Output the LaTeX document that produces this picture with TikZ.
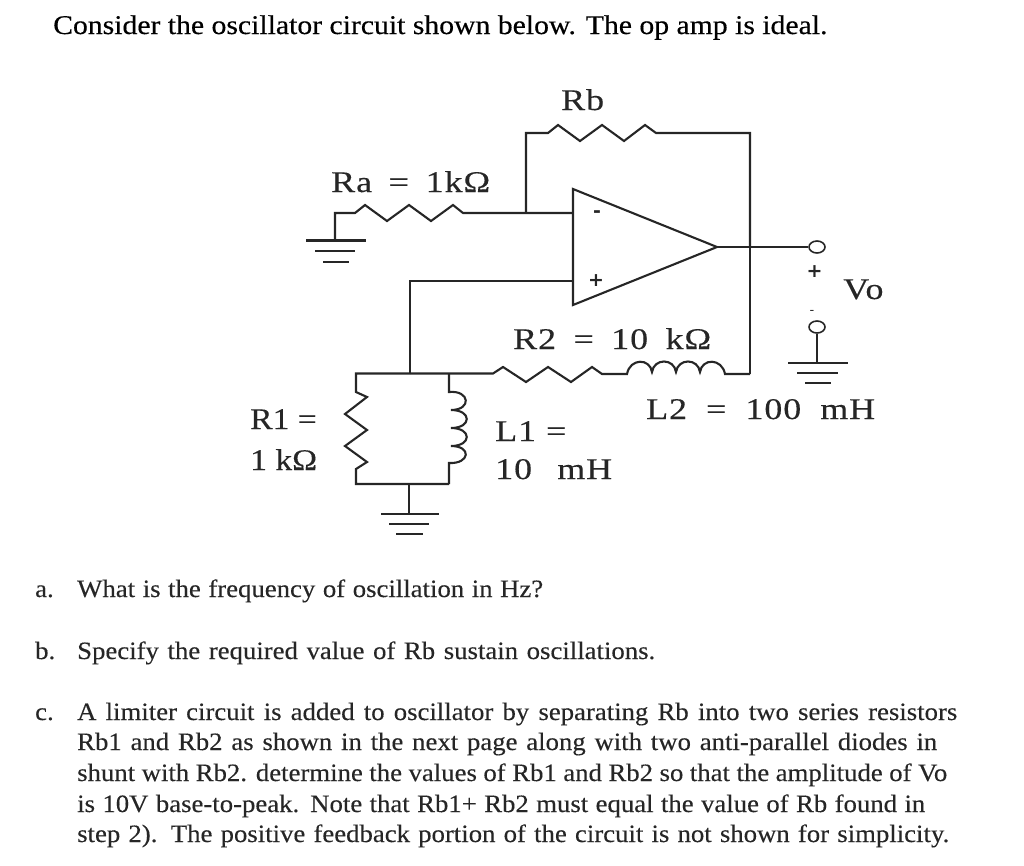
\documentclass[tikz,border=0pt]{standalone}
\usepackage{fontspec}
\setmainfont{Liberation Serif}
\newfontfamily\bodyf[FakeStretch=1.07,FakeBold=0.25]{Liberation Serif}
\newfontfamily\headf[FakeStretch=1.1,FakeBold=0.4]{Liberation Serif}
\newfontfamily\labf[FakeStretch=1.2,FakeBold=0.3,LetterSpace=3]{Liberation Serif}
\newfontfamily\labn[FakeStretch=1.12,FakeBold=0.3]{Liberation Serif}
\newcommand{\fitto}[2]{\makebox[#1pt][s]{#2}}
\definecolor{ink}{HTML}{262626}
\tikzset{
  wire/.style={draw=ink,line width=2.1pt,line join=miter},
  bodytext/.style={anchor=base west,inner sep=0pt,text=ink,font=\bodyf\fontsize{25}{25}\selectfont},
  headtext/.style={anchor=base west,inner sep=0pt,text=black,font=\headf\fontsize{27}{27}\selectfont},
  lab/.style={anchor=base west,inner sep=0pt,text=ink,font=\labf\fontsize{30}{30}\selectfont},
  labnarrow/.style={anchor=base west,inner sep=0pt,text=ink,font=\labn\fontsize{30}{30}\selectfont},
  sign/.style={inner sep=0pt,text=ink,font=\fontspec{DejaVu Sans}\bfseries\fontsize{19}{19}\selectfont},
  termcircle/.style={draw=ink,line width=1.6pt,ellipse,minimum width=16pt,minimum height=12pt,inner sep=0pt},
  pin/.style={inner sep=0pt,minimum size=0pt},
}
\usetikzlibrary{shapes.geometric}
\begin{document}
\begin{tikzpicture}[x=1pt,y=-1pt]
\useasboundingbox (0,0) rectangle (1024,865);
% op amp
\node[pin] (inm) at (573,213) {};
\node[pin] (inp) at (573,281) {};
\node[pin] (out) at (717,247) {};
\draw[wire] (573,189) -- (717,247) -- (573,305) -- cycle;
% Ra branch
\coordinate (gA) at (335,240.5);
\coordinate (jA) at (526,213);
\draw[wire] (gA) -- (335,213) -- (355,213) -- (365,205) -- (387,221) -- (409,205) -- (431,221) -- (453,205) -- (463,213) -- (jA) -- (inm);
\draw[wire] (306,240.5) -- (366,240.5);
\draw[wire] (315,251) -- (355,251);
\draw[wire] (323,262) -- (349,262);
% Rb feedback
\coordinate (jO) at (750,247);
\draw[wire] (jA) -- (526,133) -- (548,133) -- (558,125) -- (580,141) -- (602,125) -- (624,141) -- (645,125) -- (656,133) -- (750,133) -- (jO);
% output
\node[termcircle] (vp) at (817,247) {};
\node[termcircle] (vm) at (817,327) {};
\draw[wire] (out) -- (vp);
\draw[wire] (jO) -- (750,374);
% Vo ground
\coordinate (gV) at (817,363);
\draw[wire] (vm) -- (gV);
\draw[wire] (788,363) -- (848,363);
\draw[wire] (797,373) -- (838,373);
\draw[wire] (805,383) -- (831,383);
% positive input and tank
\coordinate (jP) at (410,373.5);
\coordinate (jL) at (449,373.5);
\draw[wire] (inp) -- (410,281) -- (jP);
\draw[wire] (jP) -- (356,373.5) -- (356,392) -- (367,397) -- (345,414) -- (367,430) -- (345,446) -- (367,462) -- (356,469) -- (356,484) -- (449,484);
\draw[wire] (jP) -- (jL) -- (493,373.5) -- (503,367) -- (526,382) -- (548,367) -- (571,382) -- (592,367) -- (602,374) -- (627,374)
  .. controls (630,358) and (650,358) .. (652,372)
  .. controls (654,358) and (674,358) .. (676,372)
  .. controls (678,358) and (698,358) .. (700,372)
  .. controls (702,358) and (722,358) .. (725,374) -- (750,374);
\draw[wire] (jL) -- (449,392)
  .. controls (470,390) and (472,410) .. (451,410)
  .. controls (472,410) and (472,428) .. (451,428)
  .. controls (472,428) and (472,446) .. (451,446)
  .. controls (472,446) and (470,464) .. (449,463) -- (449,484);
\coordinate (gT) at (409,514);
\draw[wire] (409,484) -- (gT);
\draw[wire] (381,514) -- (439,514);
\draw[wire] (389,524) -- (429,524);
\draw[wire] (396,534) -- (423,534);
% signs
\node[sign] (sm) at (597,214) {-};
\node[sign] (spl) at (596,281) {+};
\node[sign] (vpl) at (814.5,272) {+};
\node[sign,font=\fontspec{DejaVu Sans}\fontsize{13}{13}\selectfont] (vmi) at (812,312) {-};
% labels
\node[lab] (lRb) at (561,110) {Rb};
\node[lab] (lRa) at (331,192) {\fitto{159}{Ra = 1kΩ}};
\node[lab] (lVo) at (843,299) {Vo};
\node[lab] (lR2) at (513,349) {\fitto{198}{R2 = 10 kΩ}};
\node[lab] (lL2) at (646,419) {\fitto{229}{L2 = 100 mH}};
\node[labnarrow] (lR1a) at (250,429) {R1 =};
\node[labnarrow] (lR1b) at (250,470) {1 kΩ};
\node[lab] (lL1a) at (495,441) {L1 =};
\node[lab] (lL1b) at (495,479) {\fitto{117}{10 mH}};
% text
\node[headtext] (h) at (53,34) {Consider the oscillator circuit shown below. The op amp is ideal.};
\node[bodytext] (qa) at (35,597) {a.};
\node[bodytext] (qat) at (77,597) {\fitto{466}{What is the frequency of oscillation in Hz?}};
\node[bodytext] (qb) at (35,659) {b.};
\node[bodytext] (qbt) at (77,659) {\fitto{578}{Specify the required value of Rb sustain oscillations.}};
\node[bodytext] (qc) at (35,720) {c.};
\node[bodytext] (c1) at (77,720) {\fitto{880}{A limiter circuit is added to oscillator by separating Rb into two series resistors}};
\node[bodytext] (c2) at (77,750) {\fitto{860}{Rb1 and Rb2 as shown in the next page along with two anti-parallel diodes in}};
\node[bodytext] (c3) at (77,781) {\fitto{870}{shunt with Rb2. determine the values of Rb1 and Rb2 so that the amplitude of Vo}};
\node[bodytext] (c4) at (77,812) {\fitto{848}{is 10V base-to-peak. Note that Rb1+ Rb2 must equal the value of Rb found in}};
\node[bodytext] (c5) at (77,842) {\fitto{872}{step 2). The positive feedback portion of the circuit is not shown for simplicity.}};
\end{tikzpicture}
\end{document}
